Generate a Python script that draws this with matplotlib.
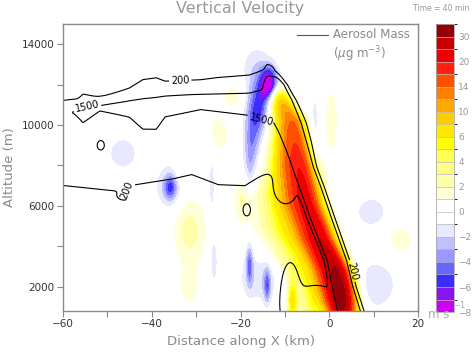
import numpy as np
import matplotlib
matplotlib.use('Agg')
import matplotlib.pyplot as plt
from matplotlib.colors import ListedColormap, BoundaryNorm
from matplotlib.lines import Line2D

# colour levels of vertical velocity (m/s) and their colours
w_levels = [-8, -7, -6, -5, -4, -3, -2, -1, 0, 1, 2, 3, 4, 5, 6, 8, 10, 12, 14, 17, 20, 25, 30, 40]
w_colors = ['#cc00f5', '#8a14f0', '#3c2cff', '#6666ff', '#9999ff', '#c0c0ff', '#e8e8ff',
            '#ffffff', '#ffffff', '#ffffd8', '#ffffaa', '#ffff88', '#ffff55', '#ffff00',
            '#ffe800', '#ffcc00', '#ffa800', '#ff8000', '#ff5000', '#ff2010', '#ee0000',
            '#c80000', '#960008']
cbar_ticks = [30, 20, 14, 10, 6, 4, 2, 0, -2, -4, -6, -8]

# updraft core: centre line (height m -> x km)
wb_z = [800, 1300, 2000, 2800, 4400, 6100, 8000, 8700, 10200, 11200, 12000, 12700]
wb_x = [3.0, 2.8, 2.4, 1.4, -2.0, -4.8, -6.5, -7.0, -8.0, -10.5, -12.0, -13.0]
wb_amp = [30, 34, 33, 31, 24, 20, 17, 15, 12, 7, 2, 0]
wb_sl = [2.2, 2.5, 2.8, 3.0, 3.2, 3.2, 3.0, 2.8, 2.4, 2.0, 1.5, 1.5]
wb_sr = [2.0, 2.0, 2.0, 2.1, 2.2, 2.2, 2.1, 1.9, 1.7, 1.5, 1.5, 1.5]

# broad weak updraft on the rear side of the core
yb_z = [800, 2000, 3500, 5000, 6500, 8000, 9500, 11000, 12000]
yb_x = [-3.5, -4.0, -8.0, -10.0, -10.5, -10.0, -10.0, -11.5, -12.0]
yb_amp = [4.5, 4.5, 4.0, 5.0, 5.5, 5.0, 4.0, 3.0, 0.0]
yb_s = [2.5, 2.5, 3.5, 4.0, 4.0, 3.0, 2.5, 2.0, 2.0]

# isolated up/down draft cells: x (km), z (m), size x, size z, peak (m/s)
cell_x = [-13.5, -15.5, -17.0, -16.5, -18.0, -35.8, -36.0, -46.5, -26.5, -18.0, -14.0,
          -16.0, -26.0, 10.5, 9.5, -3.2,
          -8.3, -31.5, -31.5, -25.0, -21.5, 0.5, 16.0, -19.5, -33.0]
cell_z = [12050, 11000, 9500, 12900, 8000, 6900, 7000, 8600, 7000, 3100, 2050,
          2400, 3300, 2100, 5700, 9900,
          1300, 4800, 2000, 9600, 11400, 10200, 4300, 6300, 7800]
cell_sx = [1.4, 2.0, 1.5, 2.5, 1.0, 1.1, 3.0, 2.8, 0.6, 0.6, 0.6,
           3.5, 0.6, 3.8, 2.8, 0.8,
           0.8, 2.5, 1.5, 2.0, 2.0, 1.5, 2.5, 1.5, 1.2]
cell_sz = [550, 900, 1200, 800, 1300, 450, 900, 700, 1200, 700, 600,
           900, 800, 1000, 600, 1500,
           800, 1200, 800, 700, 500, 1800, 600, 800, 500]
cell_amp = [-8.5, -5.0, -3.0, -1.6, -2.0, -4.5, -1.5, -1.6, -1.6, -4.0, -4.0,
            -1.7, -2.0, -1.7, -1.7, -1.5,
            6.0, 2.5, 1.5, 1.5, 1.5, 1.3, 1.5, 2.0, 1.5]

# aerosol plume in the updraft (super-gaussian across the band)
ab_z = [800, 2000, 3300, 5400, 7000, 7900, 10100, 11200, 12000, 12300, 12650]
ab_x = [4.5, 3.0, 1.7, -1.9, -4.4, -5.9, -9.1, -11.0, -12.3, -12.8, -13.4]
ab_h = [2.5, 2.3, 2.2, 2.4, 2.4, 2.35, 2.7, 2.6, 2.2, 1.8, 1.2]
ab_amp = [4000, 4000, 4000, 4000, 4000, 4000, 4000, 4000, 3000, 1500, 100]

# anvil outflow layer: edges of the 200 contour along x
an_x = [-60, -50, -46, -45, -35, -31, -25, -19, -14, -12, -9]
an_lo = [7010, 6780, 6700, 7000, 7350, 7550, 7050, 7000, 7700, 7900, 8200]
an_hi = [11220, 11470, 11550, 11600, 12000, 12150, 12300, 12360, 12450, 12300, 11600]
an_amp = [700, 700, 700, 700, 700, 700, 700, 700, 700, 700, 150]

# thin dense layer near the anvil top: edges of the 1500 contour
tl_x = [-60, -58, -55.5, -51.7, -45, -42, -39, -37, -29, -18, -14, -10]
tl_lo = [10600, 10600, 10180, 10700, 10450, 9950, 9950, 10500, 10830, 10580, 10300, 10300]
tl_hi = [10650, 10650, 10950, 10970, 11250, 11380, 11430, 11470, 11520, 11570, 11800, 11800]
tl_amp = [0, 1100, 1600, 1600, 1600, 1600, 1600, 1600, 1600, 1600, 1600, 0]

# extra aerosol pockets (low-level outflow, small islands)
ap_x = [-3.0, -8.8, -9.8, -51.5, -18.6, -46.3]
ap_z = [800, 1600, 7000, 9000, 5800, 6480]
ap_sx = [4.0, 1.3, 2.2, 1.2, 0.7, 0.9]
ap_sz = [800, 1000, 700, 350, 250, 130]
ap_amp = [700, 700, 450, 1000, 400, 400]

# contour label spots
lab_x = [-46.0, -33.6, 5.4, -54.6, -15.2]
lab_z = [6710, 12210, 2790, 10900, 10330]

xtick_vals = [-60, -50, -40, -30, -20, -10, 0, 10, 20]
ytick_vals = [2000, 4000, 6000, 8000, 10000, 12000, 14000]


def cells(X, Z, cx, cz, sx, sz, amp):
    f = np.zeros_like(X)
    for a, b, c, d, e in zip(cx, cz, sx, sz, amp):
        f += e * np.exp(-0.5 * ((X - a) / c) ** 2 - 0.5 * ((Z - b) / d) ** 2)
    return f


def tilted_band(X, Z, kz, kx, ka, ksl, ksr):
    xc = np.interp(Z, kz, kx)
    a = np.interp(Z, kz, ka)
    d = X - xc
    s = np.where(d < 0, np.interp(Z, kz, ksl), np.interp(Z, kz, ksr))
    return a * np.exp(-0.5 * (d / s) ** 2)


x = np.linspace(-60, 20, 401)
z = np.linspace(800, 15000, 285)
X, Z = np.meshgrid(x, z)

w = tilted_band(X, Z, wb_z, wb_x, wb_amp, wb_sl, wb_sr)
w += tilted_band(X, Z, yb_z, yb_x, yb_amp, yb_s, yb_s)
w += cells(X, Z, cell_x, cell_z, cell_sx, cell_sz, cell_amp)
w = np.clip(w, -7.99, 39.9)

# aerosol mass
xc = np.interp(Z, ab_z, ab_x)
aer = np.interp(Z, ab_z, ab_amp) * np.exp(-(np.abs(X - xc) / np.interp(Z, ab_z, ab_h)) ** 4)
lo = np.interp(X, an_x, an_lo)
hi = np.interp(X, an_x, an_hi)
aer += np.interp(X, an_x, an_amp) * np.exp(-((Z - (lo + hi) / 2) / ((hi - lo) / 2 / 1.058)) ** 4)
tlo = np.interp(X, tl_x, tl_lo)
thi = np.interp(X, tl_x, tl_hi)
aer += np.interp(X, tl_x, tl_amp) * np.exp(-((Z - (tlo + thi) / 2) / ((thi - tlo) / 2 / 0.686)) ** 2)
aer += cells(X, Z, ap_x, ap_z, ap_sx, ap_sz, ap_amp)

fig = plt.figure(figsize=(4.74, 3.53), dpi=100)
ax = fig.add_axes([0.133, 0.119, 0.749, 0.813])
cax = fig.add_axes([0.920, 0.116, 0.038, 0.816])

cmap = ListedColormap(w_colors)
norm = BoundaryNorm(w_levels, cmap.N)
cf = ax.contourf(X, Z, w, levels=w_levels, cmap=cmap, norm=norm)

cs = ax.contour(X, Z, aer, levels=[200, 1500], colors='k', linewidths=0.8)
ax.clabel(cs, fmt='%d', fontsize=7, inline=True, inline_spacing=2,
          manual=list(zip(lab_x, lab_z)))

ax.set_xlim(-60, 20)
ax.set_ylim(800, 15000)

gray = '#8a8a8a'
ax.set_xticks(xtick_vals)
ax.set_xticklabels([str(v).replace('-', '\u2212') if v % 20 == 0 else '' for v in xtick_vals])
ax.set_yticks(ytick_vals)
ax.set_yticklabels([str(v) if v % 4000 == 2000 else '' for v in ytick_vals])
ax.tick_params(direction='out', length=4, width=0.8, color=gray, labelsize=7.5,
               labelcolor='#333333', pad=2)
for sp in ax.spines.values():
    sp.set_color(gray)
    sp.set_linewidth(1.0)
top = ax.secondary_xaxis('top')
top.set_xticks(xtick_vals)
top.tick_params(direction='in', length=4, width=0.8, color=gray, labeltop=False)
top.spines['top'].set_color(gray)
right = ax.secondary_yaxis('right')
right.set_yticks(ytick_vals)
right.tick_params(direction='in', length=4, width=0.8, color=gray, labelright=False)
right.spines['right'].set_color(gray)

ax.set_xlabel('Distance along X (km)', fontsize=9.5, color=gray, labelpad=4)
ax.set_ylabel('Altitude (m)', fontsize=9.5, color=gray, labelpad=4)
ax.set_title('Vertical Velocity', fontsize=11.5, color='#999999', pad=8)

# legend key for the aerosol contours
ax.add_line(Line2D([0.66, 0.745], [0.96, 0.96], transform=ax.transAxes,
                   color='#555555', lw=0.8))
ax.text(0.76, 0.962, 'Aerosol Mass', transform=ax.transAxes, fontsize=8.5,
        color=gray, va='center')
ax.text(0.76, 0.895, '($\\mu$g m$^{-3}$)', transform=ax.transAxes, fontsize=8.5,
        color=gray, va='center')

cb = fig.colorbar(cf, cax=cax, ticks=cbar_ticks, drawedges=True)
cb.outline.set_edgecolor('#aaaaaa')
cb.outline.set_linewidth(0.6)
cb.dividers.set_color('#bbbbbb')
cb.dividers.set_linewidth(0.5)
cb.ax.tick_params(length=0, labelsize=6.5, labelcolor='#999999', pad=3)
cb.ax.set_yticklabels([str(v).replace('-', '\u2212') for v in cbar_ticks])

fig.text(0.902, 0.108, 'm s', fontsize=8.5, color='#aaaaaa', va='center')
fig.text(0.955, 0.135, '\u22121', fontsize=6, color='#aaaaaa', va='center')
fig.text(0.99, 0.975, 'Time = 40 min', fontsize=5.5, color='#999999', ha='right', va='center')

fig.savefig('out.png', dpi=100)
